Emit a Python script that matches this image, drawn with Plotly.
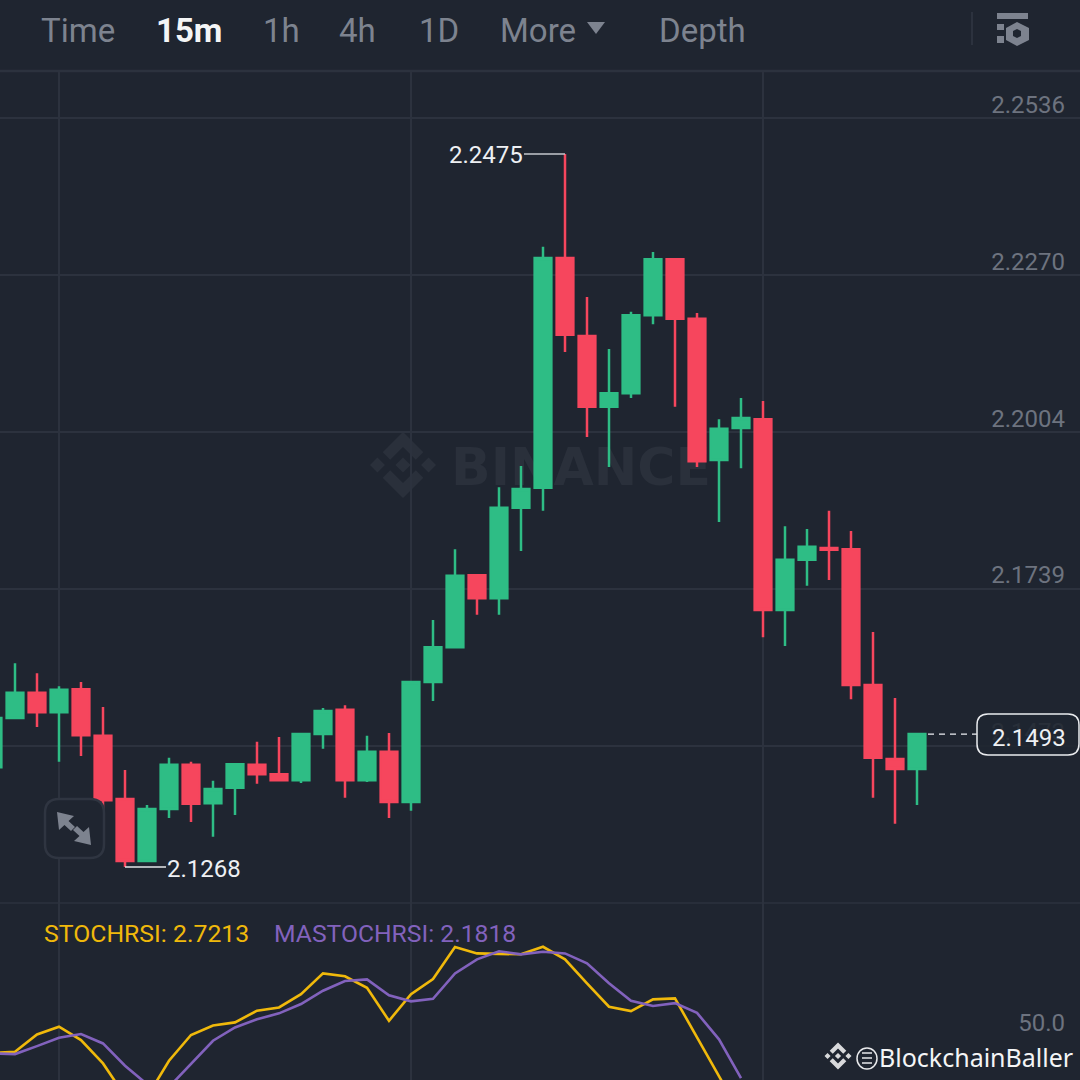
import plotly.graph_objects as go

# candle data
opens = [2.1437, 2.1520, 2.1563, 2.1530, 2.1569, 2.1490, 2.1383, 2.1278, 2.1366, 2.1441, 2.1376,
         2.1402, 2.1441, 2.1425, 2.1415, 2.1493, 2.1534, 2.1415, 2.1463, 2.1378, 2.1581, 2.1640,
         2.1762, 2.1723, 2.1876, 2.1910, 2.2299, 2.2167, 2.2047, 2.2070, 2.2202, 2.2297, 2.2196,
         2.1957, 2.2011, 2.2026, 2.1703, 2.1788, 2.1808, 2.1806, 2.1576, 2.1451, 2.1434]
highs = [2.1520, 2.1613, 2.1596, 2.1574, 2.1581, 2.1539, 2.1432, 2.1373, 2.1453, 2.1446, 2.1414,
         2.1444, 2.1480, 2.1488, 2.1495, 2.1537, 2.1542, 2.1490, 2.1495, 2.1583, 2.1686, 2.1806,
         2.1762, 2.1911, 2.1947, 2.2318, 2.2475, 2.2233, 2.2145, 2.2208, 2.2309, 2.2297, 2.2206,
         2.2026, 2.2062, 2.2057, 2.1845, 2.1840, 2.1871, 2.1837, 2.1666, 2.1554, 2.1493]
lows = [2.1437, 2.1520, 2.1505, 2.1446, 2.1456, 2.1353, 2.1268, 2.1278, 2.1351, 2.1344, 2.1319,
        2.1356, 2.1409, 2.1415, 2.1410, 2.1468, 2.1385, 2.1412, 2.1351, 2.1363, 2.1549, 2.1639,
        2.1695, 2.1695, 2.1803, 2.1871, 2.2140, 2.1996, 2.1945, 2.2062, 2.2187, 2.2047, 2.1945,
        2.1852, 2.1943, 2.1657, 2.1642, 2.1744, 2.1754, 2.1552, 2.1385, 2.1341, 2.1373]
closes = [2.1520, 2.1563, 2.1530, 2.1568, 2.1491, 2.1381, 2.1278, 2.1366, 2.1441, 2.1375, 2.1400,
          2.1442, 2.1425, 2.1415, 2.1493, 2.1532, 2.1415, 2.1463, 2.1378, 2.1581, 2.1640, 2.1761,
          2.1723, 2.1876, 2.1908, 2.2299, 2.2169, 2.2047, 2.2070, 2.2202, 2.2297, 2.2196, 2.1955,
          2.2010, 2.2028, 2.1703, 2.1788, 2.1810, 2.1805, 2.1576, 2.1453, 2.1434, 2.1493]
candle_idx = list(range(len(opens)))

stoch = [40.7, 41.3, 50.9, 55.2, 47.8, 34.8, 16.7, 16.1, 36.3, 50.6, 55.9, 57.6, 64.1, 65.9, 73.3,
         84.8, 83.2, 76.8, 58.5, 73.2, 81.7, 99.4, 95.9, 95.6, 95.4, 99.6, 92.6, 79.3, 66.3, 63.9,
         70.4, 70.9, 48.7, 25.9, 6.1]
ma_stoch = [40.4, 40.0, 44.4, 49.1, 51.1, 45.9, 33.5, 23.3, 21.7, 34.8, 47.4, 54.8, 59.3, 62.6, 67.8,
            75.2, 80.6, 81.5, 72.6, 69.3, 70.7, 84.8, 92.6, 97.1, 95.4, 96.8, 95.9, 90.4, 79.3, 69.6,
            66.7, 68.3, 62.9, 48.2, 26.7]

price_ticks = [2.2536, 2.2270, 2.2004, 2.1739, 2.1473, 2.1207]
stoch_ticks = [50.0]
header_tabs = ["Time", "15m", "1h", "4h", "1D", "More", "Depth"]
last_price = 2.1493
high_price = 2.2475
low_price = 2.1268
stoch_label = "STOCHRSI: 2.7213"
ma_label = "MASTOCHRSI: 2.1818"

BG = "#1f2530"
GRID = "#2c323e"
GREEN = "#2ebd85"
RED = "#f6465d"
GREY = "#7d838f"
TICK = "#6d737f"
WHITE = "#eef0f3"
YELLOW = "#f0b90b"
PURPLE = "#8262bd"
FONT = "Roboto"


def px(x, y):
    return x / 1080, 1 - y / 1080


def poly(points):
    out = []
    for n, (x, y) in enumerate(points):
        a, b = px(x, y)
        out.append(("M" if n == 0 else "L") + f"{a:.5f},{b:.5f}")
    return " ".join(out) + " Z"


def rounded(x0, y0, x1, y1, r):
    steps = [("M", x0 + r, y0), ("L", x1 - r, y0), ("Q", x1, y0, x1, y0 + r), ("L", x1, y1 - r),
             ("Q", x1, y1, x1 - r, y1), ("L", x0 + r, y1), ("Q", x0, y1, x0, y1 - r),
             ("L", x0, y0 + r), ("Q", x0, y0, x0 + r, y0)]
    parts = []
    for s in steps:
        nums = []
        for k in range(1, len(s), 2):
            a, b = px(s[k], s[k + 1])
            nums.append(f"{a:.5f},{b:.5f}")
        parts.append(s[0] + " ".join(nums))
    return " ".join(parts) + " Z"


def logo(cx, cy, size):
    # binance mark, drawn in a 126.6 unit box
    groups = [
        [(38.73, 53.2), (63.3, 28.63), (87.9, 53.22), (102.2, 38.92), (63.3, 0), (24.42, 38.9)],
        [(0, 63.31), (14.3, 49.01), (28.6, 63.31), (14.3, 77.6)],
        [(63.31, 48.9), (77.8, 63.3), (63.3, 77.8), (48.8, 63.3)],
        [(98, 63.31), (112.3, 49.01), (126.6, 63.3), (112.3, 77.6)],
        [(87.9, 73.4), (102.2, 87.69), (63.3, 126.6), (24.4, 87.7), (38.7, 73.4), (63.3, 98)],
    ]
    k = size / 126.6
    return " ".join(poly([(cx + (x - 63.3) * k, cy + (y - 63.3) * k) for x, y in g]) for g in groups)


def path_shape(path, fill, layer="above", line=None, width=0):
    return dict(type="path", xref="paper", yref="paper", path=path, fillcolor=fill, layer=layer,
                line=dict(color=line or fill, width=width))


def seg(x0, y0, x1, y1, color, width=1.5, dash="solid", layer="above"):
    a, b = px(x0, y0)
    c, d = px(x1, y1)
    return dict(type="line", xref="paper", yref="paper", x0=a, y0=b, x1=c, y1=d, layer=layer,
                line=dict(color=color, width=width, dash=dash))


def label(x, y, text, color, size, anchor="left", family=FONT):
    a, b = px(x, y)
    return dict(xref="paper", yref="paper", x=a, y=b, text=text, showarrow=False, xanchor=anchor,
                yanchor="middle", font=dict(color=color, size=size, family=family))


fig = go.Figure()
fig.add_trace(go.Candlestick(
    x=candle_idx, open=opens, high=highs, low=lows, close=closes, xaxis="x", yaxis="y",
    increasing=dict(line=dict(color=GREEN, width=2.5), fillcolor=GREEN),
    decreasing=dict(line=dict(color=RED, width=2.5), fillcolor=RED),
    showlegend=False))
fig.add_trace(go.Scatter(x=candle_idx[:len(stoch)], y=stoch, mode="lines", xaxis="x2", yaxis="y2",
                         line=dict(color=YELLOW, width=2.6), showlegend=False))
fig.add_trace(go.Scatter(x=candle_idx[:len(ma_stoch)], y=ma_stoch, mode="lines", xaxis="x2", yaxis="y2",
                         line=dict(color=PURPLE, width=2.6), showlegend=False))

x_range = [7 / 22, 1087 / 22]
x_axis = dict(range=x_range, tick0=3, dtick=16, showgrid=True, gridcolor=GRID, gridwidth=1.5,
              showticklabels=False, zeroline=False, ticks="", rangeslider=dict(visible=False))
y_common = dict(side="right", ticklabelposition="inside top", ticklabelstandoff=12, ticklabelshift=3,
                zeroline=False, ticks="", tickfont=dict(family=FONT, size=24, color=TICK))

tab_x = [39, 154, 261, 337, 417, 498, 657]
annotations = []
for name, x in zip(header_tabs, tab_x):
    if name == "15m":
        annotations.append(label(x, 31, f"<b>{name}</b>", "#f4f5f6", 33))
    else:
        annotations.append(label(x, 31, name, GREY, 33))

i_high = highs.index(high_price)
i_low = lows.index(low_price)
i_last = len(closes) - 1
annotations += [
    dict(x=i_high, y=high_price, xref="x", yref="y", text=f"{high_price:.4f}", showarrow=False,
         xanchor="right", yanchor="middle", xshift=-40, yshift=-1, font=dict(color=WHITE, size=24, family=FONT)),
    dict(x=i_low, y=low_price, xref="x", yref="y", text=f"{low_price:.4f}", showarrow=False,
         xanchor="left", yanchor="middle", xshift=40, yshift=-2, font=dict(color=WHITE, size=24, family=FONT)),
    label(990, 738, f"{last_price:.4f}", WHITE, 24),
    label(42, 933, stoch_label, YELLOW, 24.8),
    label(272, 933, ma_label, PURPLE, 24.7),
    label(877, 1057, "BlockchainBaller", "#f4f5f6", 25, family="Noto Sans"),
]

shapes = [
    # header and pane separators
    seg(0, 71, 1080, 71, GRID, 2.5),
    seg(0, 903, 1080, 903, GRID, 1.5, layer="below"),
    seg(972, 12, 972, 45, GRID, 2),
    # data driven leader lines
    dict(type="line", xref="x", yref="y", x0=i_high - 41 / 22, x1=i_high, y0=high_price, y1=high_price,
         line=dict(color="#c4c7cc", width=1.5)),
    dict(type="line", xref="x", yref="y", x0=i_low, x1=i_low + 41 / 22, y0=low_price, y1=low_price,
         line=dict(color="#e4e6e9", width=1.5)),
    dict(type="line", xref="x", yref="y", x0=i_last + 0.5, x1=i_last + 2.72, y0=last_price, y1=last_price,
         line=dict(color=WHITE, width=1.2, dash="6px,5px")),
    # current price pill
    path_shape(rounded(977, 714, 1079, 755, 11), "rgba(31,37,48,0.88)", line="#e9ebee", width=1.5),
    # watermark
    path_shape(logo(403, 465, 66), "#2a303b", layer="below"),
    dict(type="rect", xref="paper", yref="paper", layer="below",
         x0=450 / 1080, x1=712 / 1080, y0=1 - 488 / 1080, y1=1 - 438 / 1080,
         line=dict(width=0), fillcolor="rgba(0,0,0,0)",
         label=dict(text="<b>BINANCE</b>", font=dict(family="DejaVu Sans", size=52, color="#2a303b"),
                    textposition="middle center")),
    # dropdown triangle
    path_shape(poly([(587, 22), (605, 22), (596, 34)]), GREY),
    # settings icon
    path_shape(poly([(997, 13), (1028, 13), (1028, 19), (997, 19)]), GREY),
    path_shape(poly([(997, 24), (1004, 24), (1004, 30), (997, 30)]), GREY),
    path_shape(poly([(997, 36), (1004, 36), (1004, 43), (997, 43)]), GREY),
    path_shape(poly([(1017, 22), (1029, 28), (1029, 40), (1017, 46), (1006, 40), (1006, 28)]), GREY),
    path_shape(poly([(1017, 29), (1021, 31), (1021, 36), (1017, 38), (1013, 36), (1013, 31)]), BG),
    # expand button
    path_shape(rounded(45, 799, 104, 858, 14), BG, line="#2f3541", width=2.5),
    path_shape(poly([(57, 812), (74, 816), (68.5, 821), (75, 827), (71, 831), (64.5, 825), (59, 830)]), GREY),
    path_shape(poly([(91, 845), (74, 841), (79.5, 836), (73, 830), (77, 826), (83.5, 832), (89, 827)]), GREY),
    # bottom right credit
    path_shape(logo(838, 1056, 27), "#d8d9db"),
    dict(type="circle", xref="paper", yref="paper", x0=857 / 1080, x1=877 / 1080, y0=1 - 1069 / 1080,
         y1=1 - 1048 / 1080, fillcolor=BG, line=dict(color="#e8e9eb", width=1.5)),
    seg(862, 1053, 872, 1053, "#e8e9eb", 1.5),
    seg(862, 1058, 872, 1058, "#e8e9eb", 1.5),
    seg(862, 1063, 872, 1063, "#e8e9eb", 1.5),
]

fig.update_layout(
    width=1080, height=1080, margin=dict(l=0, r=0, t=0, b=0),
    paper_bgcolor=BG, plot_bgcolor=BG, boxmode="overlay", boxgap=0.24, boxgroupgap=0,
    hovermode=False, showlegend=False, font=dict(family=FONT),
    xaxis=dict(anchor="y", domain=[0, 1], **x_axis),
    xaxis2=dict(anchor="y2", domain=[0, 1], **x_axis),
    yaxis=dict(anchor="x", domain=[177 / 1080, 1008 / 1080], range=[2.1207, 2.26139], tickvals=price_ticks,
               tickformat=".4f", showgrid=True, gridcolor=GRID, gridwidth=1.5, **y_common),
    yaxis2=dict(anchor="x2", domain=[0, 177 / 1080], range=[25.6, 123.9], tickvals=stoch_ticks,
                tickformat=".1f", showgrid=False, **y_common),
    shapes=shapes, annotations=annotations,
)

fig.write_html("out.html", config=dict(displayModeBar=False),
               post_script="document.body.style.margin='0';document.body.style.background='#1f2530';")
